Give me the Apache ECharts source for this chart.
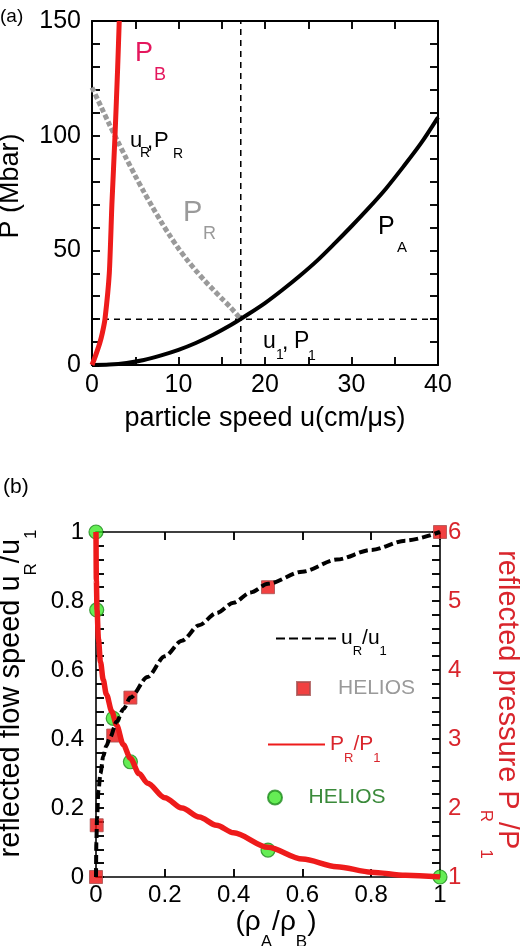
<!DOCTYPE html>
<html><head><meta charset="utf-8">
<script src="https://cdn.jsdelivr.net/npm/echarts@6/dist/echarts.min.js"></script>
<style>html,body{margin:0;padding:0;background:#fff}#c{width:520px;height:946px}</style>
</head><body><div id="c"></div>
<script>
// ---------- Panel (a) data ----------
const speedTicks = [0, 10, 20, 30, 40];
const pressureTicks = [0, 50, 100, 150];
const curvePA = [[0,0],[2,0.2],[4,0.9],[6,2.2],[8,4.2],[10,6.6],[12,9.6],[14,13.2],[16,17.3],[18,22],[20,27],[22,32.7],[24,38.8],[26,45.4],[28,52.8],[30,60.5],[32,68.5],[34,77],[36,86.5],[38,96.5],[40,108]];
const curvePB = [[0,0],[0.4,4],[0.9,9.6],[1.2,14],[1.5,20],[2.0,40],[2.3,70],[2.66,100],[2.97,130],[3.15,150]];
const curvePR = [[0,121],[1,113],[2,105],[3,97.3],[4,89.8],[5,82.5],[6,75.5],[7,68.8],[8,62.4],[9,56.4],[10,50.8],[11,45.8],[12,41.2],[13,36.9],[14,32.9],[15,29],[16,25.2],[17.2,20]];
const u1 = 17.2;
const P1 = 20;
// ---------- Panel (b) data ----------
const densityTicks = [0, 0.2, 0.4, 0.6, 0.8, 1];
const flowTicks = [0, 0.2, 0.4, 0.6, 0.8, 1];
const pressureRatioTicks = [1, 2, 3, 4, 5, 6];
const flowRatio = [[0,0],[0.001,0.1],[0.003,0.17],[0.007,0.25],[0.013,0.3],[0.021,0.35],[0.03,0.38],[0.041,0.405],[0.06,0.45],[0.08,0.487],[0.1,0.52],[0.15,0.58],[0.2,0.64],[0.25,0.685],[0.3,0.73],[0.35,0.765],[0.4,0.795],[0.45,0.825],[0.5,0.85],[0.6,0.885],[0.7,0.92],[0.8,0.948],[0.9,0.975],[1,1]];
const flowHelios = [[0,0],[0.002,0.15],[0.05,0.41],[0.1,0.52],[0.5,0.84],[1,1]];
const pressureRatio = [[0,6],[0.001,5.3],[0.003,4.87],[0.007,4.45],[0.013,4.12],[0.021,3.86],[0.03,3.65],[0.046,3.4],[0.06,3.2],[0.079,2.92],[0.1,2.72],[0.125,2.5],[0.15,2.36],[0.2,2.15],[0.25,2.0],[0.3,1.87],[0.35,1.75],[0.4,1.64],[0.5,1.43],[0.6,1.26],[0.7,1.15],[0.8,1.07],[0.9,1.025],[1,1]];
const pressureHelios = [[0,6],[0.002,4.87],[0.05,3.3],[0.1,2.67],[0.5,1.39],[1,1]];

const FONT = 'Liberation Sans, Arial, Helvetica, sans-serif';
const BLACK = '#000';
const RED = '#ee1b1b';
const RED_TXT = '#d9252c';
const PINK = '#e4175d';
const GRAY = '#9a9a9a';
const GREEN = '#3fe82a';
const TICK = 8;

function range(t){ return {min:t[0], max:t[t.length-1], interval:t[1]-t[0]}; }
function valAxis(ticks, grid, pos, opts){
  const r = range(ticks);
  const o = {
    type:'value', gridIndex:grid, position:pos, min:r.min, max:r.max, interval:r.interval,
    splitLine:{show:false}, minorSplitLine:{show:false},
    axisLine:{show:true, onZero:false, lineStyle:{color:BLACK, width:opts.lw||2}},
    axisTick:{show:true, inside:true, length:TICK, lineStyle:{color:BLACK, width:1.5}},
    minorTick:{show: !!opts.minor, splitNumber: opts.minor||5, length:TICK, lineStyle:{color:BLACK, width:1.5}},
    axisLabel:{show: !!opts.labels, color: opts.labelColor||BLACK, fontFamily:FONT, fontSize: opts.fs||25, margin: opts.margin||10},
  };
  if (opts.name) {
    o.name = opts.name; o.nameLocation = 'middle'; o.nameGap = opts.nameGap;
    if (opts.nameRotate !== undefined) o.nameRotate = opts.nameRotate;
    o.nameTextStyle = {fontFamily:FONT, fontSize:opts.nfs, color:opts.nameColor||BLACK, padding:opts.npad||0, rich:opts.rich||{}};
  }
  return o;
}
// Thin strip grids along each frame edge: their split lines, placed by the axis scale, draw the inward tick marks.
function stripAxes(gridIdx, ticks, minor, alongX){
  const r = range(ticks);
  const active = {type:'value', gridIndex:gridIdx, min:r.min, max:r.max, interval:r.interval,
    axisLine:{show:false}, axisTick:{show:false}, axisLabel:{show:false},
    minorTick:{show:false, splitNumber: minor||5},
    splitLine:{show:true, lineStyle:{color:BLACK, width:1.5}},
    minorSplitLine:{show: !!minor, lineStyle:{color:BLACK, width:1.5}}};
  const dummy = {type:'value', gridIndex:gridIdx, min:0, max:1, show:false};
  return alongX ? {x:active, y:dummy} : {x:dummy, y:active};
}
function subRich(color, big, small, pad){
  return {m:{fontFamily:FONT, fontSize:big, color:color}, s:{fontFamily:FONT, fontSize:small, color:color, padding:[pad,0,0,0]}};
}
function txt(str, x, base, size, color){
  return {type:'text', x:x, y: base - 0.31*size, silent:true,
    style:{text:str, fontFamily:FONT, fontSize:size, fill:color, align:'left', verticalAlign:'middle'}};
}

const A = {left:92, top:21, width:346, height:344};
const B = {left:96, top:532, width:344, height:345};
const grids = [
  Object.assign({outerBoundsMode:'none'}, A),
  Object.assign({outerBoundsMode:'none'}, B),
  // panel (a) strips: bottom, top, left, right
  {outerBoundsMode:'none', left:A.left, width:A.width, top:A.top+A.height-TICK, height:TICK},
  {outerBoundsMode:'none', left:A.left, width:A.width, top:A.top, height:TICK},
  {outerBoundsMode:'none', left:A.left, width:TICK, top:A.top, height:A.height},
  {outerBoundsMode:'none', left:A.left+A.width-TICK, width:TICK, top:A.top, height:A.height},
  // panel (b) strips
  {outerBoundsMode:'none', left:B.left, width:B.width, top:B.top+B.height-TICK, height:TICK},
  {outerBoundsMode:'none', left:B.left, width:B.width, top:B.top, height:TICK},
  {outerBoundsMode:'none', left:B.left, width:TICK, top:B.top, height:B.height},
  {outerBoundsMode:'none', left:B.left+B.width-TICK, width:TICK, top:B.top, height:B.height}
];
const strips = [
  stripAxes(2, speedTicks, 2, true), stripAxes(3, speedTicks, 2, true),
  stripAxes(4, pressureTicks, 5, false), stripAxes(5, pressureTicks, 5, false),
  stripAxes(6, densityTicks, 0, true), stripAxes(7, densityTicks, 0, true),
  stripAxes(8, flowTicks, 5, false), stripAxes(9, pressureRatioTicks, 5, false)
];

const option = {
  animation:false,
  grid:grids,
  xAxis:[
    valAxis(speedTicks,0,'bottom',{labels:true, minor:2, fs:25, margin:8,
      name:'particle speed u(cm/μs)', nameGap:40, nfs:27}),
    valAxis(speedTicks,0,'top',{minor:2}),
    valAxis(densityTicks,1,'bottom',{labels:true, fs:24, margin:6, lw:1.6,
      name:'{m|(ρ}{s|A}{m|/ρ}{s|B}{m|)}', nameGap:13, nfs:28, npad:[0,0,0,16], rich:subRich(BLACK,28,17,40)}),
    valAxis(densityTicks,1,'top',{lw:1.6})
  ].concat(strips.map(s=>s.x)),
  yAxis:[
    valAxis(pressureTicks,0,'left',{labels:true, minor:5, fs:25, margin:11,
      name:'P (Mbar)', nameGap:68, nfs:27, nameRotate:90, npad:[0,0,0,14]}),
    valAxis(pressureTicks,0,'right',{minor:5}),
    valAxis(flowTicks,1,'left',{labels:true, minor:5, fs:24, margin:12, lw:1.6,
      name:'{m|reflected flow speed u}{s|R}{m|/u}{s|1}', nameGap:49, nfs:29, nameRotate:90, npad:[0,0,0,22], rich:subRich(BLACK,29,17,40)}),
    valAxis(pressureRatioTicks,1,'right',{labels:true, minor:5, fs:24, margin:8, lw:1.6, labelColor:RED_TXT,
      name:'{m|reflected pressure P}{s|R}{m|/P}{s|1}', nameGap:37, nfs:29, nameRotate:-90, nameColor:RED_TXT, rich:subRich(RED_TXT,29,17,42)})
  ].concat(strips.map(s=>s.y)),
  legend:[
    {data:['uR/u1'], left:270, top:623, itemWidth:60, itemHeight:14, selectedMode:false, itemStyle:{opacity:0},
      formatter:()=> '{m|u}{s|R}{m|/u}{s|1}', textStyle:{color:BLACK, rich:subRich(BLACK,21,13,25)}},
    {data:['HELIOS (u)'], left:291, top:673, itemWidth:13, itemHeight:13, selectedMode:false,
      formatter:()=> 'HELIOS', textStyle:{color:GRAY, fontFamily:FONT, fontSize:21, padding:[0,0,0,23]}},
    {data:['PR/P1'], left:262, top:729, itemWidth:57, itemHeight:14, selectedMode:false, itemStyle:{opacity:0},
      formatter:()=> '{m|P}{s|R}{m|/P}{s|1}', textStyle:{color:RED_TXT, rich:subRich(RED_TXT,21,13,28)}},
    {data:['HELIOS (P)'], left:262, top:782, itemWidth:57, itemHeight:14, selectedMode:false,
      formatter:()=> 'HELIOS', textStyle:{color:'#3a8a3a', fontFamily:FONT, fontSize:21}}
  ],
  series:[
    {name:'u1 guide', type:'line', xAxisIndex:0, yAxisIndex:0, symbol:'none', silent:true,
      data:[[u1, pressureTicks[0]],[u1, pressureTicks[pressureTicks.length-1]]],
      lineStyle:{color:BLACK, width:1.5, type:[6,5]}},
    {name:'P1 guide', type:'line', xAxisIndex:0, yAxisIndex:0, symbol:'none', silent:true,
      data:[[speedTicks[0], P1],[speedTicks[speedTicks.length-1], P1]],
      lineStyle:{color:BLACK, width:1.5, type:[6,5]}},
    {name:'PA', type:'line', xAxisIndex:0, yAxisIndex:0, symbol:'none', smooth:0.3,
      data:curvePA, lineStyle:{color:BLACK, width:4}},
    {name:'PR', type:'line', xAxisIndex:0, yAxisIndex:0, symbol:'none', smooth:0.3,
      data:curvePR, lineStyle:{color:GRAY, width:5, type:[5,2.5], cap:'butt'}},
    {name:'PB', type:'line', xAxisIndex:0, yAxisIndex:0, symbol:'none', smooth:0.2,
      data:curvePB, lineStyle:{color:RED, width:5}},

    {name:'PR/P1', type:'line', xAxisIndex:2, yAxisIndex:3, symbol:'none', smooth:0.3, smoothMonotone:'x',
      data:pressureRatio, lineStyle:{color:RED, width:5.5}, itemStyle:{color:RED}},
    {name:'uR/u1', type:'line', xAxisIndex:2, yAxisIndex:2, symbol:'none', smooth:0.3, smoothMonotone:'x',
      data:flowRatio, lineStyle:{color:BLACK, width:4, type:[9,4]}, itemStyle:{color:BLACK}},
    {name:'HELIOS (u)', type:'scatter', xAxisIndex:2, yAxisIndex:2, symbol:'rect', symbolSize:13, clip:false,
      data:flowHelios, itemStyle:{color:'#ee1111', borderColor:'#a85050', borderWidth:1}},
    {name:'HELIOS (P)', type:'scatter', xAxisIndex:2, yAxisIndex:3, symbol:'circle', symbolSize:14, clip:false,
      data:pressureHelios, itemStyle:{color:GREEN, borderColor:'#1f8a1f', borderWidth:1.2}}
  ],
  graphic:[
    txt('(a)', 0, 23, 19, BLACK),
    txt('(b)', 3, 494, 21, BLACK),
    txt('P', 135, 62, 27, PINK), txt('B', 154, 81, 18, PINK),
    txt('u', 130, 148, 22, BLACK), txt('R', 140, 157, 14, BLACK), txt(',', 147, 149, 22, BLACK),
    txt('P', 154, 148, 22, BLACK), txt('R', 173, 158, 14, BLACK),
    txt('P', 183, 222, 29, GRAY), txt('R', 203, 240, 18, GRAY),
    txt('P', 378, 235, 25, BLACK), txt('A', 397, 253, 15, BLACK),
    txt('u', 263, 349, 23, BLACK), txt('1', 276, 359, 14, BLACK), txt(',', 282, 350, 23, BLACK),
    txt('P', 294, 349, 23, BLACK), txt('1', 308, 360, 14, BLACK)
  ]
};
echarts.init(document.getElementById('c')).setOption(option);
</script>
</body></html>
